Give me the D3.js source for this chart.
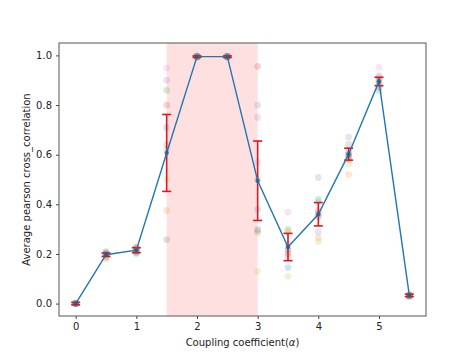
<!DOCTYPE html>
<html><head><meta charset="utf-8">
<script src="https://cdn.jsdelivr.net/npm/d3@7"></script>
<style>body{margin:0;background:#fff}svg{display:block}text{font-family:"DejaVu Sans",sans-serif}</style>
</head><body>
<svg id="chart" width="474" height="355"></svg>
<script>
const alphas = [0, 0.5, 1.0, 1.5, 2.0, 2.5, 3.0, 3.5, 4.0, 4.5, 5.0, 5.5];
const means  = [0.0, 0.197, 0.215, 0.607, 0.995, 0.995, 0.495, 0.228, 0.36, 0.602, 0.895, 0.033];
const errs   = [0.005, 0.007, 0.01, 0.155, 0.003, 0.003, 0.16, 0.055, 0.047, 0.024, 0.017, 0.005];
// per-trial values (10 trials per coupling coefficient), trial i uses colour i
const trials = [
  [0.0, 0.002, 0.0, 0.001, 0.0, 0.0, 0.001, 0.0, 0.002, 0.0],
  [0.2, 0.18, 0.205, 0.19, 0.21, 0.2, 0.195, 0.2, 0.185, 0.2],
  [0.205, 0.225, 0.21, 0.22, 0.215, 0.21, 0.22, 0.225, 0.23, 0.2],
  [0.71, 0.375, 0.86, 0.8, 0.9, 0.258, 0.95, 0.64, 0.5, 0.62],
  [0.995, 0.998, 0.993, 0.995, 0.997, 0.994, 0.996, 0.995, 0.993, 0.997],
  [0.996, 0.994, 0.997, 0.995, 0.993, 0.996, 0.995, 0.994, 0.997, 0.995],
  [0.38, 0.285, 0.5, 0.956, 0.75, 0.295, 0.57, 0.8, 0.13, 0.3],
  [0.145, 0.29, 0.3, 0.214, 0.24, 0.2, 0.368, 0.19, 0.11, 0.22],
  [0.36, 0.265, 0.42, 0.35, 0.288, 0.37, 0.38, 0.508, 0.25, 0.41],
  [0.6, 0.52, 0.59, 0.58, 0.671, 0.6, 0.62, 0.642, 0.562, 0.61],
  [0.9, 0.89, 0.856, 0.88, 0.91, 0.87, 0.952, 0.918, 0.89, 0.9],
  [0.03, 0.035, 0.032, 0.03, 0.034, 0.031, 0.033, 0.036, 0.03, 0.032]
];
const shadeRange = [1.5, 3.0];
const xTicks = [0, 1, 2, 3, 4, 5];
const yTicks = [0.0, 0.2, 0.4, 0.6, 0.8, 1.0];
const colors = ["#1f77b4","#ff7f0e","#2ca02c","#d62728","#9467bd","#8c564b","#e377c2","#7f7f7f","#bcbd22","#17becf"];

const svg = d3.select("#chart");
const L = 59, R = 426, T = 43, B = 316;
const x = d3.scaleLinear().domain([-0.275, 5.775]).range([L, R]);
const y = d3.scaleLinear().domain([-0.05, 1.05]).range([B, T]);

// shaded region
svg.append("rect")
  .attr("x", x(shadeRange[0])).attr("y", T)
  .attr("width", x(shadeRange[1]) - x(shadeRange[0])).attr("height", B - T)
  .attr("fill", "#ff0000").attr("fill-opacity", 0.12);

// scatter of trials
const pts = [];
trials.forEach((arr, i) => arr.forEach((v, j) => pts.push({a: alphas[i], v, j})));
svg.append("g").selectAll("circle").data(pts).join("circle")
  .attr("cx", d => x(d.a)).attr("cy", d => y(d.v)).attr("r", 3.4)
  .attr("fill", d => colors[d.j]).attr("fill-opacity", 0.2);

// error bars
const eb = svg.append("g").attr("stroke", "#e8141b").attr("stroke-width", 1.6);
alphas.forEach((a, i) => {
  const cx = x(a), y1 = y(means[i] + errs[i]), y0 = y(means[i] - errs[i]);
  eb.append("line").attr("x1", cx).attr("x2", cx).attr("y1", y1).attr("y2", y0);
  eb.append("line").attr("x1", cx - 4.5).attr("x2", cx + 4.5).attr("y1", y1).attr("y2", y1);
  eb.append("line").attr("x1", cx - 4.5).attr("x2", cx + 4.5).attr("y1", y0).attr("y2", y0);
});

// mean line
const line = d3.line().x((d, i) => x(alphas[i])).y(d => y(d));
svg.append("path").datum(means).attr("d", line)
  .attr("fill", "none").attr("stroke", "#1f77b4").attr("stroke-width", 1.4);
svg.append("g").selectAll("circle").data(means).join("circle")
  .attr("cx", (d, i) => x(alphas[i])).attr("cy", d => y(d)).attr("r", 2.2)
  .attr("fill", "#1f5f8f").attr("fill-opacity", 0.8);

// axes
const xAxis = svg.append("g").attr("transform", `translate(0,${B})`)
  .call(d3.axisBottom(x).tickValues(xTicks).tickFormat(d3.format("d")).tickSize(3).tickPadding(4));
const yAxis = svg.append("g").attr("transform", `translate(${L},0)`)
  .call(d3.axisLeft(y).tickValues(yTicks).tickFormat(d3.format(".1f")).tickSize(3).tickPadding(4));
[xAxis, yAxis].forEach(g => {
  g.selectAll("text").attr("font-size", 10).attr("fill", "#222").attr("font-family", "DejaVu Sans");
  g.selectAll("line").attr("stroke", "#444");
  g.select(".domain").remove();
});
// frame
svg.append("rect").attr("x", L).attr("y", T).attr("width", R - L).attr("height", B - T)
  .attr("fill", "none").attr("stroke", "#555").attr("stroke-width", 1);

// labels
const xl = svg.append("text").attr("x", (L + R) / 2).attr("y", 346)
  .attr("text-anchor", "middle").attr("font-size", 10).attr("fill", "#222");
xl.append("tspan").text("Coupling coefficient(");
xl.append("tspan").attr("font-style", "italic").text("α");
xl.append("tspan").text(")");
svg.append("text").attr("transform", `translate(30,${(T + B) / 2}) rotate(-90)`)
  .attr("text-anchor", "middle").attr("font-size", 10).attr("fill", "#222")
  .text("Average pearson cross_correlation");
</script>
</body></html>
